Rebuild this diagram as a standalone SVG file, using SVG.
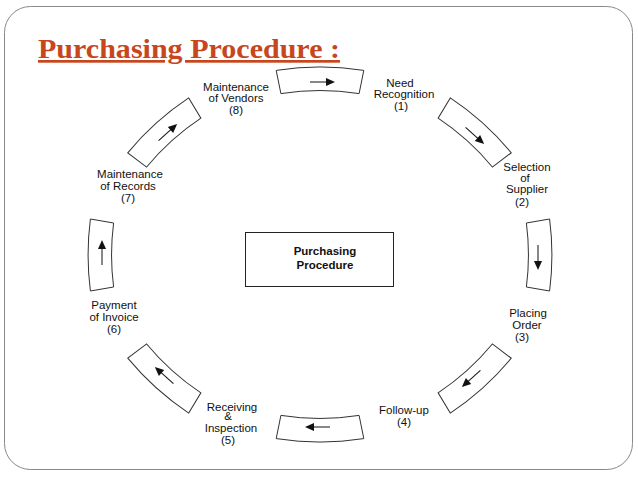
<svg xmlns="http://www.w3.org/2000/svg" width="638" height="478" viewBox="0 0 638 478">
<style>
.seg{fill:#fff;stroke:#333;stroke-width:1}
.lbl{font-family:"Liberation Sans",Arial,sans-serif;font-size:11.5px;fill:#111;text-anchor:middle}
.arr line{stroke:#111;stroke-width:1}
.arr polygon{fill:#111}
</style>
<defs>
<g id="seg">
<path class="seg" d="M -43.8,-11.6 A 280 280 0 0 1 43.8,-11.6 L 39.1,11.6 A 250 250 0 0 0 -39.1,11.6 Z"/>
<g class="arr"><line x1="-10" y1="0" x2="8" y2="0"/><polygon points="6,-4 15,0 6,4"/></g>
</g>
<g id="dseg">
<path class="seg" d="M -41,-11.6 A 280 280 0 0 1 41,-11.6 L 36.5,11.6 A 250 250 0 0 0 -36.5,11.6 Z"/>
<g class="arr"><line x1="-10" y1="0" x2="8" y2="0"/><polygon points="6,-4 15,0 6,4"/></g>
</g>
<g id="sseg">
<path class="seg" d="M -36,-11.6 A 280 280 0 0 1 36,-11.6 L 32,11.6 A 250 250 0 0 0 -32,11.6 Z"/>
<g class="arr"><line x1="-10" y1="0" x2="8" y2="0"/><polygon points="6,-4 15,0 6,4"/></g>
</g>
</defs>
<rect x="4.5" y="6.5" width="628" height="463" rx="26" fill="#fff" stroke="#888" stroke-width="1"/>
<text x="38" y="58" font-family="'Liberation Serif','Times New Roman',serif" font-weight="bold" font-size="27" fill="#c8461d" text-decoration="underline" textLength="302" lengthAdjust="spacingAndGlyphs">Purchasing Procedure :</text>
<g id="connectors">
<use href="#seg" transform="translate(320,82)"/>
<use href="#dseg" transform="translate(473,134) rotate(42)"/>
<use href="#sseg" transform="translate(538,255) rotate(90)"/>
<use href="#dseg" transform="translate(473,377) rotate(138)"/>
<use href="#seg" transform="translate(320,427) rotate(180)"/>
<use href="#dseg" transform="translate(166,377) rotate(222)"/>
<use href="#sseg" transform="translate(102,255) rotate(270)"/>
<use href="#dseg" transform="translate(166,134) rotate(318)"/>
</g>
<g id="center"><rect x="245.5" y="232.5" width="148" height="54" fill="#fff" stroke="#222"/>
<text class="lbl" x="325" y="255" font-weight="bold" font-size="13">Purchasing</text><text class="lbl" x="325" y="269" font-weight="bold" font-size="13">Procedure</text></g>
<g id="n1"><text class="lbl" x="400" y="87">Need</text><text class="lbl" x="404" y="98">Recognition</text><text class="lbl" x="401" y="110">(1)</text></g>
<g id="n2"><text class="lbl" x="527" y="171">Selection</text><text class="lbl" x="525" y="182">of</text><text class="lbl" x="527" y="193">Supplier</text><text class="lbl" x="522" y="206">(2)</text></g>
<g id="n3"><text class="lbl" x="528" y="317">Placing</text><text class="lbl" x="527" y="329">Order</text><text class="lbl" x="522" y="341">(3)</text></g>
<g id="n4"><text class="lbl" x="404" y="414">Follow-up</text><text class="lbl" x="404" y="426">(4)</text></g>
<g id="n5"><text class="lbl" x="232" y="411">Receiving</text><text class="lbl" x="228" y="420">&amp;</text><text class="lbl" x="231" y="432">Inspection</text><text class="lbl" x="228" y="444">(5)</text></g>
<g id="n6"><text class="lbl" x="114" y="309">Payment</text><text class="lbl" x="114" y="321">of Invoice</text><text class="lbl" x="114" y="333">(6)</text></g>
<g id="n7"><text class="lbl" x="130" y="178">Maintenance</text><text class="lbl" x="128" y="190">of Records</text><text class="lbl" x="128" y="202">(7)</text></g>
<g id="n8"><text class="lbl" x="236" y="91">Maintenance</text><text class="lbl" x="236" y="102">of Vendors</text><text class="lbl" x="236" y="114">(8)</text></g>
</svg>
